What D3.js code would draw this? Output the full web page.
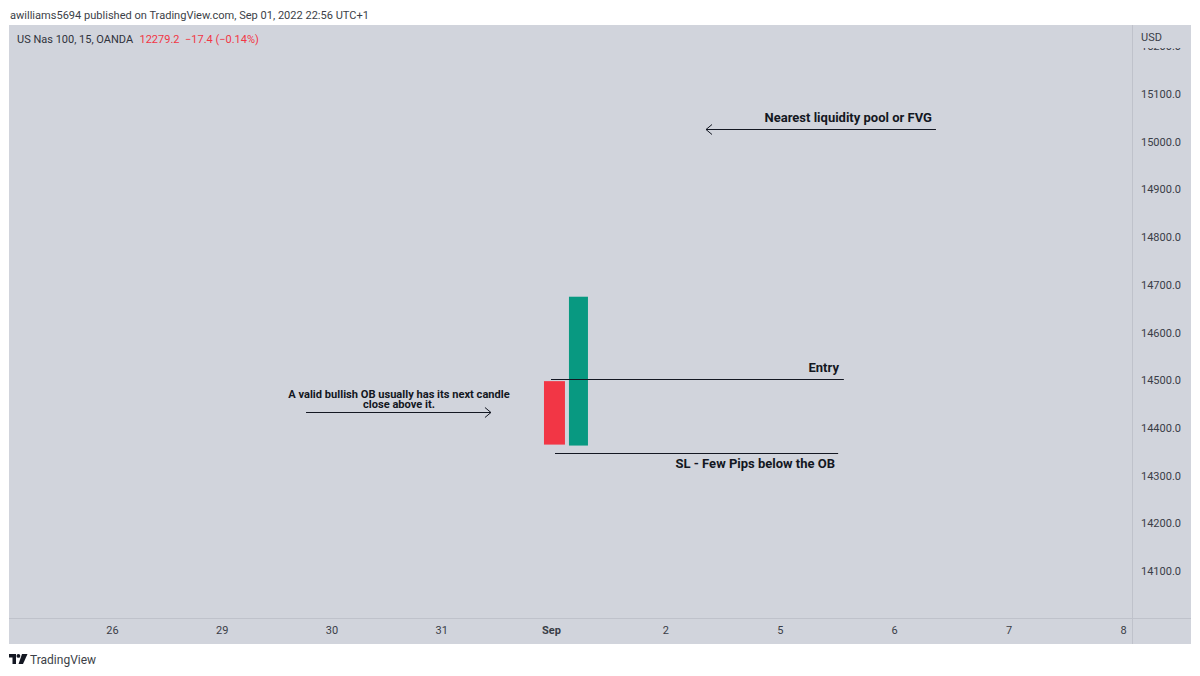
<!DOCTYPE html>
<html><head><meta charset="utf-8">
<script src="https://cdnjs.cloudflare.com/ajax/libs/d3/7.8.5/d3.min.js"></script>
<style>html,body{margin:0;padding:0;background:#fff}svg{display:block}text{font-family:Roboto,sans-serif}</style>
</head><body><svg id="c" width="1200" height="676"></svg>
<script>
const dayLabels = ["26","29","30","31","Sep","2","5","6","7","8"];
const dayIndex = [0,1,2,3,4,5,6,7,8,9];
const priceTicks = [15200,15100,15000,14900,14800,14700,14600,14500,14400,14300,14200,14100];
const candleNames = ["bearish OB","bullish follow-through"];
const candleStart = [3.936,4.157];
const candleEnd = [4.122,4.323];
const candleOpen = [14498,14363];
const candleClose = [14365,14675];
const candleColors = ["#f23645","#089981"];
const lineNames = ["target","entry","stop","note"];
const lineX1 = [7.365,4.0,4.035,1.768];
const lineX2 = [5.355,6.56,6.51,3.453];
const linePrice = [15027,14503,14348,14433];
const lineArrow = [true,false,false,true];
const noteTexts = ["Nearest liquidity pool or FVG","Entry","SL - Few Pips below the OB","A valid bullish OB usually has its next candle","close above it."];
const notePos = [[7.33,15041],[6.517,14518],[6.483,14315],[2.615,14463],[2.615,14442]];
const noteAnchor = ["end","end","end","middle","middle"];
const noteSize = [13,13,13,11.1,11.1];

const svg = d3.select("#c");
const panel = {l:9,r:1191,t:25,b:644}, axisX = 1132, axisY = 618;
const x = d3.scaleLinear().domain([0,4,9]).range([112,551,1123]);
const y = d3.scaleLinear().domain([15100,14100]).range([94,571]);
const ink = "#131722";

svg.append("rect").attr("x",panel.l).attr("y",panel.t).attr("width",panel.r-panel.l).attr("height",panel.b-panel.t).attr("fill","#d1d4dc");
svg.append("line").attr("x1",axisX+.5).attr("x2",axisX+.5).attr("y1",panel.t).attr("y2",panel.b).attr("stroke","#bfc2cb");
svg.append("line").attr("x1",panel.l).attr("x2",panel.r).attr("y1",axisY+.5).attr("y2",axisY+.5).attr("stroke","#bfc2cb");

// header
svg.append("text").attr("x",10).attr("y",19).attr("font-size",11.05).attr("fill","#3c3f48")
  .text("awilliams5694 published on TradingView.com, Sep 01, 2022 22:56 UTC+1");
const leg = svg.append("text").attr("x",17).attr("y",43).attr("font-size",11);
leg.append("tspan").attr("fill","#2f323b").text("US Nas 100, 15, OANDA");
leg.append("tspan").attr("fill","#f23645").attr("x",139.5).text("12279.2");
leg.append("tspan").attr("fill","#f23645").attr("x",185).text("−17.4 (−0.14%)");

// axes
const yAxis = svg.append("g").attr("transform",`translate(${axisX+9},0)`)
  .call(d3.axisRight(y).tickValues(priceTicks).tickFormat(d3.format(".1f")).tickSize(0).tickPadding(0));
yAxis.select(".domain").remove();
yAxis.selectAll("text").attr("font-size",11).attr("fill","#3a3d47").style("font-family","Roboto");
svg.append("rect").attr("x",axisX+1).attr("y",panel.t).attr("width",panel.r-axisX-1).attr("height",23).attr("fill","#d1d4dc");
svg.append("text").attr("x",1141).attr("y",41).attr("font-size",11).attr("fill","#3a3d47").text("USD");

const xAxis = svg.append("g").attr("transform",`translate(0,${axisY+5})`)
  .call(d3.axisBottom(x).tickValues(dayIndex).tickFormat(i=>dayLabels[i]).tickSize(0).tickPadding(3));
xAxis.select(".domain").remove();
xAxis.selectAll("text").attr("font-size",11).attr("fill","#3a3d47").style("font-family","Roboto")
  .attr("font-weight",i=>dayLabels[i]==="Sep"?700:400);

// candles
svg.append("g").selectAll("rect").data(candleNames).join("rect")
  .attr("x",(d,i)=>x(candleStart[i]))
  .attr("width",(d,i)=>x(candleEnd[i])-x(candleStart[i]))
  .attr("y",(d,i)=>y(Math.max(candleOpen[i],candleClose[i])))
  .attr("height",(d,i)=>Math.abs(y(candleOpen[i])-y(candleClose[i])))
  .attr("fill",(d,i)=>candleColors[i]);

// drawn lines
const lg = svg.append("g");
lineNames.forEach((n,i)=>{
  const a=x(lineX1[i]), b=x(lineX2[i]), v=Math.round(y(linePrice[i]))+.5;
  lg.append("line").attr("x1",a).attr("x2",b).attr("y1",v).attr("y2",v).attr("stroke",ink).attr("stroke-width",1);
  if(lineArrow[i]){
    const s=Math.sign(b-a);
    lg.append("path").attr("fill","none").attr("stroke",ink).attr("stroke-width",1)
      .attr("d",d3.line()([[b-s*6,v-5],[b,v],[b-s*6,v+5]]));
  }
});

// notes
svg.append("g").selectAll("text").data(noteTexts).join("text")
  .attr("x",(d,i)=>x(notePos[i][0])).attr("y",(d,i)=>y(notePos[i][1]))
  .attr("text-anchor",(d,i)=>noteAnchor[i])
  .attr("font-size",(d,i)=>noteSize[i]).attr("font-weight",700).attr("fill",ink)
  .text(d=>d);

// logo
const logo = svg.append("g").attr("transform","translate(9,654)").attr("fill","#131722");
logo.append("path").attr("d","M0 0H7V10H3.5V3.6H0Z");
logo.append("circle").attr("cx",9.4).attr("cy",1.9).attr("r",1.9);
logo.append("path").attr("d","M13 0H18.5L14 10H9.5Z");
svg.append("text").attr("x",30).attr("y",664).attr("font-size",12).attr("fill","#3c3f48").text("TradingView");
</script></body></html>
